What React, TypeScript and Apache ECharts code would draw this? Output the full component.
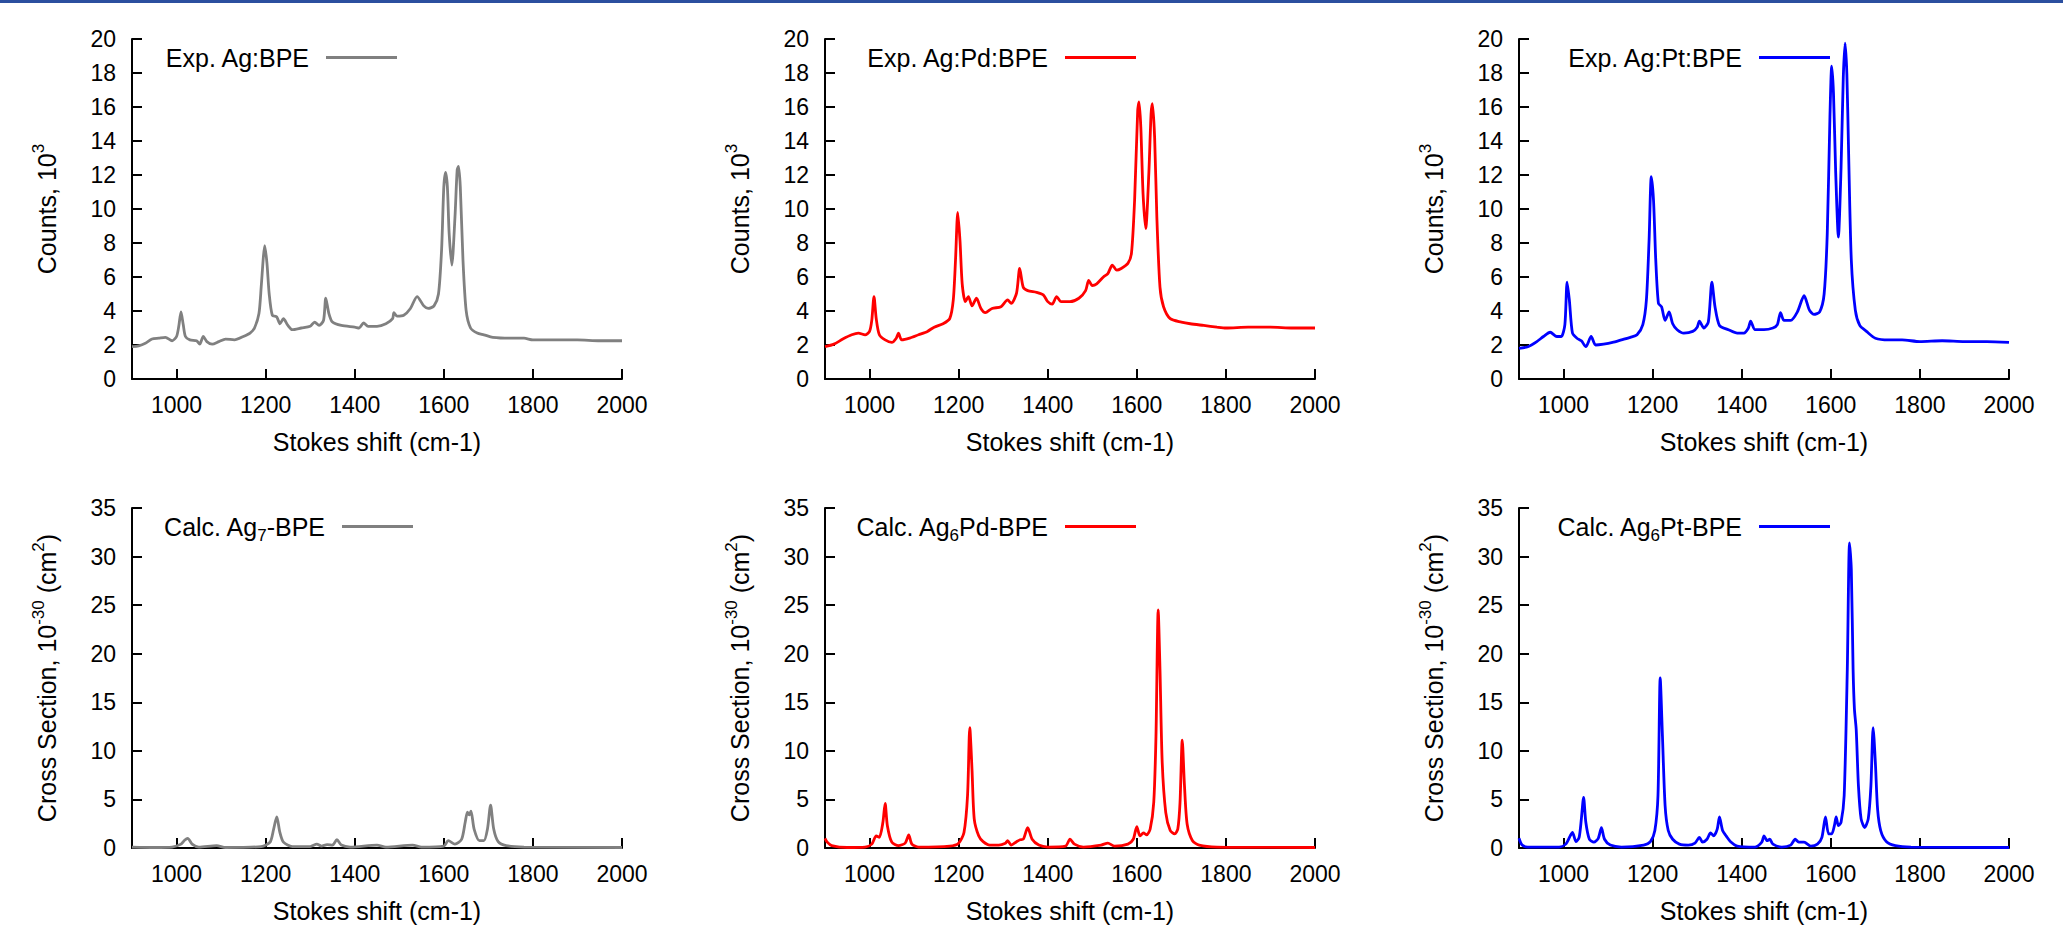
import { useEffect, useRef } from 'react';
import * as echarts from 'echarts';

type Pt = [number, number];

// Tick positions shared by every panel
const xTicks = [1000, 1200, 1400, 1600, 1800, 2000];

// Measured SERS spectra (counts, 10^3)
const expAgBpe: Pt[] = [
  [900, 1.9], [915, 1.95], [930, 2.1], [945, 2.35], [960, 2.4], [975, 2.45], [990, 2.25], [1000, 2.5],
  [1005, 3.1], [1010, 3.95], [1015, 3.2], [1020, 2.5], [1030, 2.3], [1045, 2.25], [1052, 2.05], [1060, 2.5],
  [1068, 2.2], [1080, 2.05], [1095, 2.2], [1110, 2.35], [1130, 2.3], [1150, 2.5], [1165, 2.7], [1175, 3.0],
  [1185, 3.85], [1190, 5.4], [1195, 7.2], [1198, 7.85], [1203, 6.8], [1208, 5.0], [1215, 3.75], [1225, 3.65],
  [1232, 3.25], [1240, 3.55], [1250, 3.15], [1260, 2.9], [1280, 3.0], [1300, 3.1], [1310, 3.35], [1320, 3.15],
  [1330, 3.45], [1335, 4.75], [1342, 3.85], [1350, 3.35], [1370, 3.15], [1400, 3.05], [1410, 3.0], [1420, 3.3],
  [1430, 3.1], [1450, 3.1], [1470, 3.25], [1485, 3.55], [1488, 3.9], [1495, 3.7], [1510, 3.75], [1525, 4.15],
  [1540, 4.85], [1555, 4.3], [1565, 4.15], [1578, 4.3], [1588, 5.0], [1595, 7.6], [1600, 11.3], [1604, 12.15],
  [1608, 11.3], [1612, 8.55], [1618, 6.7], [1625, 9.5], [1630, 12.3], [1633, 12.5], [1637, 11.3], [1643, 7.0],
  [1650, 4.05], [1660, 3.0], [1675, 2.7], [1690, 2.6], [1710, 2.45], [1750, 2.4], [1780, 2.4], [1800, 2.3],
  [1850, 2.3], [1900, 2.3], [1950, 2.25], [2000, 2.25],
];

const expAgPdBpe: Pt[] = [
  [900, 1.9], [920, 2.05], [940, 2.35], [960, 2.6], [975, 2.7], [990, 2.6], [1000, 2.8], [1005, 3.45],
  [1010, 4.85], [1015, 3.55], [1022, 2.6], [1035, 2.3], [1050, 2.15], [1060, 2.4], [1065, 2.7], [1072, 2.3],
  [1090, 2.4], [1110, 2.6], [1130, 2.8], [1145, 3.05], [1165, 3.25], [1180, 3.55], [1188, 4.65], [1193, 7.0],
  [1198, 9.8], [1203, 8.15], [1208, 5.6], [1215, 4.55], [1222, 4.85], [1230, 4.3], [1240, 4.75], [1250, 4.15],
  [1260, 3.9], [1275, 4.15], [1295, 4.25], [1310, 4.65], [1318, 4.45], [1330, 5.05], [1337, 6.5], [1345, 5.4],
  [1355, 5.2], [1375, 5.1], [1390, 4.95], [1400, 4.55], [1410, 4.4], [1420, 4.85], [1430, 4.55], [1450, 4.55],
  [1470, 4.75], [1485, 5.2], [1492, 5.8], [1500, 5.5], [1510, 5.6], [1525, 6.0], [1535, 6.2], [1545, 6.7],
  [1555, 6.4], [1565, 6.5], [1580, 6.8], [1588, 7.4], [1595, 10.5], [1602, 15.8], [1605, 16.3], [1609, 14.8],
  [1614, 10.9], [1620, 8.85], [1627, 12.1], [1632, 15.6], [1635, 16.2], [1640, 14.2], [1645, 9.5], [1652, 5.4],
  [1660, 4.25], [1675, 3.55], [1700, 3.35], [1720, 3.25], [1750, 3.15], [1780, 3.05], [1800, 3.0], [1850, 3.05],
  [1900, 3.05], [1950, 3.0], [2000, 3.0],
];

const expAgPtBpe: Pt[] = [
  [900, 1.8], [920, 1.9], [940, 2.2], [955, 2.5], [970, 2.75], [985, 2.5], [995, 2.5], [1003, 3.2],
  [1008, 5.7], [1013, 4.65], [1020, 2.7], [1030, 2.4], [1040, 2.25], [1050, 1.9], [1062, 2.5], [1072, 2.0],
  [1090, 2.05], [1110, 2.15], [1130, 2.3], [1150, 2.45], [1165, 2.6], [1178, 3.2], [1186, 4.65], [1192, 8.15],
  [1197, 11.9], [1202, 10.5], [1207, 7.0], [1213, 4.45], [1220, 4.25], [1228, 3.45], [1237, 3.95], [1245, 3.25],
  [1255, 2.9], [1270, 2.7], [1290, 2.8], [1300, 3.05], [1305, 3.4], [1315, 3.0], [1325, 3.35], [1333, 5.7],
  [1340, 4.25], [1350, 3.15], [1370, 2.9], [1390, 2.7], [1405, 2.7], [1415, 3.0], [1420, 3.4], [1430, 2.9],
  [1450, 2.9], [1470, 3.0], [1480, 3.2], [1487, 3.9], [1495, 3.45], [1510, 3.45], [1525, 3.95], [1540, 4.9],
  [1552, 4.05], [1562, 3.8], [1575, 3.95], [1585, 5.0], [1592, 8.55], [1598, 15.4], [1602, 18.4], [1606, 16.8],
  [1611, 12.1], [1617, 8.35], [1623, 12.45], [1628, 17.75], [1632, 19.75], [1636, 17.95], [1640, 13.25], [1646, 7.0],
  [1655, 4.05], [1665, 3.15], [1680, 2.8], [1700, 2.4], [1730, 2.3], [1760, 2.3], [1800, 2.2], [1850, 2.25],
  [1900, 2.2], [1950, 2.2], [2000, 2.15],
];

// Calculated Raman cross sections (10^-30 cm^2)
const calcAg7Bpe: Pt[] = [
  [900, 0.1], [950, 0.05], [990, 0.1], [1010, 0.4], [1018, 0.8], [1025, 1.0], [1035, 0.4], [1050, 0.1],
  [1090, 0.25], [1110, 0.05], [1190, 0.15], [1210, 0.6], [1218, 1.95], [1225, 3.2], [1232, 1.6], [1240, 0.6],
  [1260, 0.15], [1300, 0.15], [1315, 0.4], [1325, 0.2], [1338, 0.35], [1350, 0.3], [1360, 0.85], [1370, 0.3],
  [1390, 0.1], [1450, 0.3], [1470, 0.1], [1530, 0.3], [1550, 0.1], [1600, 0.2], [1610, 0.75], [1625, 0.4],
  [1640, 0.9], [1648, 2.65], [1653, 3.7], [1657, 3.4], [1661, 3.8], [1668, 1.95], [1680, 0.75], [1690, 0.75],
  [1698, 1.95], [1705, 4.4], [1712, 1.95], [1722, 0.65], [1740, 0.25], [1780, 0.1], [2000, 0.05],
];

const calcAg6PdBpe: Pt[] = [
  [900, 1.0], [905, 0.6], [915, 0.25], [950, 0.05], [990, 0.1], [1005, 0.4], [1015, 1.25], [1022, 1.1],
  [1030, 2.65], [1035, 4.6], [1040, 2.3], [1050, 0.6], [1065, 0.25], [1080, 0.5], [1088, 1.35], [1095, 0.4],
  [1110, 0.1], [1180, 0.2], [1200, 0.5], [1212, 1.6], [1220, 5.4], [1225, 12.4], [1230, 8.1], [1235, 3.0],
  [1245, 1.25], [1255, 0.65], [1270, 0.3], [1290, 0.3], [1305, 0.5], [1310, 0.75], [1318, 0.3], [1330, 0.65],
  [1338, 0.85], [1345, 0.9], [1355, 2.1], [1365, 0.9], [1380, 0.3], [1400, 0.1], [1440, 0.2], [1450, 0.9],
  [1460, 0.4], [1480, 0.1], [1520, 0.3], [1535, 0.5], [1550, 0.2], [1580, 0.4], [1592, 0.9], [1600, 2.2],
  [1607, 1.25], [1615, 1.55], [1622, 1.35], [1630, 1.95], [1638, 4.7], [1643, 11.5], [1648, 24.5], [1652, 18.4],
  [1657, 8.8], [1665, 3.65], [1675, 1.8], [1685, 1.45], [1692, 1.95], [1697, 4.7], [1702, 11.1], [1707, 6.4],
  [1713, 2.45], [1725, 0.75], [1740, 0.3], [1780, 0.1], [2000, 0.05],
];

const calcAg6PtBpe: Pt[] = [
  [900, 1.0], [907, 0.3], [920, 0.1], [990, 0.1], [1005, 0.4], [1015, 1.25], [1020, 1.6], [1028, 0.65],
  [1035, 1.1], [1040, 3.0], [1045, 5.2], [1050, 2.65], [1058, 0.9], [1068, 0.6], [1078, 1.0], [1085, 2.1],
  [1092, 0.9], [1105, 0.3], [1130, 0.1], [1180, 0.3], [1195, 0.65], [1205, 1.8], [1212, 5.4], [1217, 17.5],
  [1222, 11.55], [1228, 4.35], [1235, 1.8], [1245, 0.9], [1260, 0.4], [1280, 0.3], [1295, 0.5], [1305, 1.1],
  [1312, 0.6], [1322, 0.9], [1330, 1.55], [1337, 1.25], [1345, 1.95], [1350, 3.2], [1357, 1.8], [1365, 1.25],
  [1375, 0.65], [1390, 0.2], [1430, 0.1], [1445, 0.6], [1450, 1.25], [1457, 0.75], [1463, 0.9], [1470, 0.4],
  [1490, 0.1], [1510, 0.3], [1520, 0.9], [1528, 0.6], [1540, 0.6], [1555, 0.2], [1570, 0.4], [1580, 1.1],
  [1588, 3.2], [1595, 1.45], [1602, 1.45], [1608, 2.3], [1612, 3.2], [1617, 2.3], [1623, 2.65], [1630, 5.4],
  [1637, 18.4], [1642, 31.4], [1646, 28.7], [1650, 18.4], [1653, 14.3], [1657, 12.2], [1662, 6.4], [1668, 3.0],
  [1676, 2.1], [1684, 3.0], [1690, 6.4], [1695, 12.4], [1700, 8.8], [1705, 4.0], [1712, 1.8], [1725, 0.65],
  [1745, 0.25], [1780, 0.1], [2000, 0.05],
];

const FONT = "'Liberation Sans', Arial, Helvetica, sans-serif";

const richStyles = {
  n: { fontFamily: FONT, fontSize: 25, color: '#000', lineHeight: 34 },
  sup: { fontFamily: FONT, fontSize: 17, color: '#000', lineHeight: 17, verticalAlign: 'top' },
  sub: { fontFamily: FONT, fontSize: 17, color: '#000', lineHeight: 17, verticalAlign: 'bottom' },
  gap: { width: 12, lineHeight: 34 },
};

const countsTitle = '{n|Counts, 10}{sup|3}';
const crossTitle = '{n|Cross Section, 10}{sup|-30}{n| (cm}{sup|2}{n|)}';

interface Panel {
  name: string;
  label: string;
  data: Pt[];
  color: string;
  yMax: number;
  yStep: number;
  yTitle: string;
  legendRight: number;
}

const panels: Panel[] = [
  { name: 'Exp. Ag:BPE', label: '{n|Exp. Ag:BPE}{gap|}', data: expAgBpe, color: '#808080', yMax: 20, yStep: 2, yTitle: countsTitle, legendRight: 1666 },
  { name: 'Exp. Ag:Pd:BPE', label: '{n|Exp. Ag:Pd:BPE}{gap|}', data: expAgPdBpe, color: '#ff0000', yMax: 20, yStep: 2, yTitle: countsTitle, legendRight: 927 },
  { name: 'Exp. Ag:Pt:BPE', label: '{n|Exp. Ag:Pt:BPE}{gap|}', data: expAgPtBpe, color: '#0000ff', yMax: 20, yStep: 2, yTitle: countsTitle, legendRight: 233 },
  { name: 'Calc. Ag7-BPE', label: '{n|Calc. Ag}{sub|7}{n|-BPE}{gap|}', data: calcAg7Bpe, color: '#808080', yMax: 35, yStep: 5, yTitle: crossTitle, legendRight: 1650 },
  { name: 'Calc. Ag6Pd-BPE', label: '{n|Calc. Ag}{sub|6}{n|Pd-BPE}{gap|}', data: calcAg6PdBpe, color: '#ff0000', yMax: 35, yStep: 5, yTitle: crossTitle, legendRight: 927 },
  { name: 'Calc. Ag6Pt-BPE', label: '{n|Calc. Ag}{sub|6}{n|Pt-BPE}{gap|}', data: calcAg6PtBpe, color: '#0000ff', yMax: 35, yStep: 5, yTitle: crossTitle, legendRight: 233 },
];

const gridLefts = [132, 825, 1519];
const gridTops = [39, 508];
const legendTops = [45, 514];
const GRID_W = 490;
const GRID_H = 340;

export default function App() {
  const ref = useRef<HTMLDivElement>(null);

  useEffect(() => {
    if (!ref.current) return;
    const chart = echarts.init(ref.current, undefined, { renderer: 'svg' });

    const axisLine = { show: true, onZero: false, lineStyle: { color: '#000', width: 2 } };
    const axisTickStyle = { color: '#000', width: 2 };

    chart.setOption({
      animation: false,
      backgroundColor: '#fff',
      graphic: [
        { type: 'rect', left: 0, top: 0, shape: { width: 2063, height: 3 }, style: { fill: '#2b4f9f' } },
      ],
      grid: panels.map((_, i) => ({
        left: gridLefts[i % 3],
        top: gridTops[Math.floor(i / 3)],
        width: GRID_W,
        height: GRID_H,
        containLabel: false,
      })),
      xAxis: panels.map((_, i) => ({
        gridIndex: i,
        type: 'value',
        min: 900,
        max: 2000,
        name: 'Stokes shift (cm-1)',
        nameLocation: 'middle',
        nameGap: 50,
        nameTextStyle: { fontFamily: FONT, fontSize: 25, color: '#000' },
        axisLine,
        axisTick: { show: true, inside: true, length: 10, lineStyle: axisTickStyle, customValues: xTicks },
        axisLabel: {
          show: true,
          margin: 14,
          fontFamily: FONT,
          fontSize: 23,
          color: '#000',
          customValues: xTicks,
          formatter: (v: number) => String(v),
        },
        splitLine: { show: false },
      })),
      yAxis: panels.map((p, i) => ({
        gridIndex: i,
        type: 'value',
        min: 0,
        max: p.yMax,
        interval: p.yStep,
        name: p.yTitle,
        nameLocation: 'middle',
        nameRotate: 90,
        nameGap: 68,
        nameTextStyle: { rich: richStyles },
        axisLine,
        axisTick: { show: true, inside: true, length: 10, lineStyle: axisTickStyle },
        axisLabel: {
          show: true,
          margin: 16,
          fontFamily: FONT,
          fontSize: 23,
          color: '#000',
          formatter: (v: number) => String(v),
        },
        splitLine: { show: false },
      })),
      legend: panels.map((p, i) => ({
        data: [p.name],
        right: p.legendRight,
        top: legendTops[i < 3 ? 0 : 1],
        orient: 'horizontal',
        align: 'right',
        padding: 0,
        icon: 'rect',
        itemWidth: 71,
        itemHeight: 3,
        selectedMode: false,
        formatter: () => p.label,
        textStyle: { rich: richStyles },
      })),
      series: panels.map((p, i) => ({
        type: 'line',
        name: p.name,
        xAxisIndex: i,
        yAxisIndex: i,
        data: p.data,
        showSymbol: false,
        smooth: 0.25,
        clip: true,
        color: p.color,
        lineStyle: { color: p.color, width: 2.8 },
        itemStyle: { color: p.color },
      })),
    });

    return () => chart.dispose();
  }, []);

  return (
    <div
      ref={ref}
      style={{ position: 'fixed', left: 0, top: 0, width: 2063, height: 947, background: '#fff' }}
    />
  );
}
